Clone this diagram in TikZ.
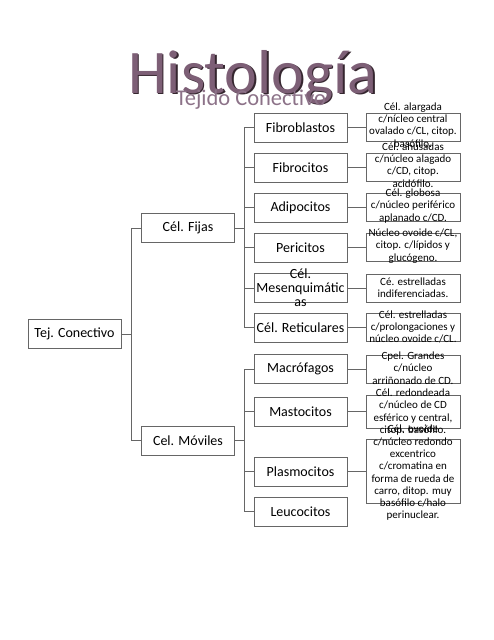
\documentclass[tikz,border=0pt]{standalone}
\usepackage{fontspec}
\setmainfont{Carlito}
\usetikzlibrary{positioning}
\definecolor{mauve}{HTML}{7D5F76}
\definecolor{mauvelight}{HTML}{8C7288}
\definecolor{mauvedark}{HTML}{35262F}
\tikzstyle{cell}=[rectangle,draw=black!60,line width=.8pt,minimum width=93pt,
  minimum height=29pt,inner sep=0pt,align=center,font=\fontsize{14}{14}\selectfont]
\tikzstyle{note}=[rectangle,draw=black!60,line width=.8pt,minimum width=94pt,
  minimum height=28pt,inner sep=0pt]
\tikzstyle{notetext}=[align=center,inner sep=0pt,font=\fontsize{11}{12.3}\selectfont]
\tikzstyle{line}=[black!60,line width=.8pt]

\begin{document}
\begin{tikzpicture}[x=1pt,y=-1pt]
	\useasboundingbox (0,0) rectangle (494,640);

	% titulo
	\node[anchor=base,text=mauvedark,font=\fontsize{62}{62}\selectfont]
		(titleshadow) at (254.5,94.5) {Histología};
	\node[anchor=base,text=mauve,font=\fontsize{62}{62}\selectfont]
		(title) at (253,93) {Histología};
	\node[anchor=base,text=mauvelight,font=\fontsize{22.5}{22.5}\selectfont]
		(subtitle) at (251,105) {Tejido Conectivo};

	% arbol
	\node[cell] (tej) at (74.5,334) {Tej. Conectivo};
	\node[cell] (fijas) at (188,228) {Cél. Fijas};
	\node[cell] (moviles) at (188,440.5) {Cel. Móviles};

	\node[cell] (fib) at (300.5,127.5) {Fibroblastos};
	\node[cell] (fibc) at (300.5,167.5) {Fibrocitos};
	\node[cell] (adip) at (300.5,207.5) {Adipocitos};
	\node[cell] (peri) at (300.5,247.5) {Pericitos};
	\node[cell] (mesen) at (300.5,288) {};
	\node[notetext,font=\fontsize{14}{14}\selectfont] (mesent) at (mesen)
		{Cél.\\Mesenquimátic\\as};
	\node[cell] (retic) at (300.5,327.5) {Cél. Reticulares};
	\node[cell] (macro) at (300.5,369) {Macrófagos};
	\node[cell] (masto) at (300.5,411.5) {Mastocitos};
	\node[cell] (plasmo) at (300.5,471.5) {Plasmocitos};
	\node[cell] (leuco) at (300.5,511.5) {Leucocitos};

	% descripciones
	\node[note] (fibn) at (413,127.5) {};
	\node[note] (fibcn) at (413,167.5) {};
	\node[note] (adipn) at (413,207.5) {};
	\node[note] (perin) at (413,247.5) {};
	\node[note] (mesenn) at (413,288) {};
	\node[note] (reticn) at (413,327.5) {};
	\node[note] (macron) at (413,369) {};
	\node[note,minimum height=33pt] (maston) at (413,411.5) {};
	\node[note,minimum height=64pt] (plasmon) at (413,471.5) {};

	\node[notetext] (fibt) at (413,125) {Cél. alargada\\c/nícleo central\\ovalado c/CL, citop.\\basófilo.};
	\node[notetext] (fibct) at (413,165) {Cél. ahusadas\\c/núcleo alagado\\c/CD, citop.\\acidófilo.};
	\node[notetext] (adipt) at (413,206) {Cél. globosa\\c/núcleo periférico\\aplanado c/CD.};
	\node[notetext] (perit) at (413,246) {Núcleo ovoide c/CL,\\citop. c/lípidos y\\glucógeno.};
	\node[notetext] (mesennt) at (413,288) {Cé. estrelladas\\indiferenciadas.};
	\node[notetext] (retict) at (413,327) {Cél. estrelladas\\c/prolongaciones y\\núcleo ovoide c/CL.};
	\node[notetext] (macrot) at (413,368) {Cpel. Grandes\\c/núcleo\\arriñonado de CD.};
	\node[notetext] (mastot) at (413,412) {Cél. redondeada\\c/núcleo de CD\\esférico y central,\\citop. basófilo.};
	\node[notetext] (plasmot) at (413,473) {Cél. ovoide\\c/núcleo redondo\\excentrico\\c/cromatina en\\forma de rueda de\\carro, ditop. muy\\basófilo c/halo\\perinuclear.};

	% conexiones
	\foreach \c in {fijas,moviles}
		\draw[line] (tej.east) -- ++(9.5,0) |- (\c.west);
	\foreach \c in {fib,fibc,adip,peri,mesen,retic}
		\draw[line] (fijas.east) -- ++(9.5,0) |- (\c.west);
	\foreach \c in {macro,masto,plasmo,leuco}
		\draw[line] (moviles.east) -- ++(9.5,0) |- (\c.west);
	\foreach \c/\n in {fib/fibn,fibc/fibcn,adip/adipn,peri/perin,mesen/mesenn,
		retic/reticn,macro/macron,masto/maston,plasmo/plasmon}
		\draw[line] (\c) -- (\n);
\end{tikzpicture}
\end{document}
